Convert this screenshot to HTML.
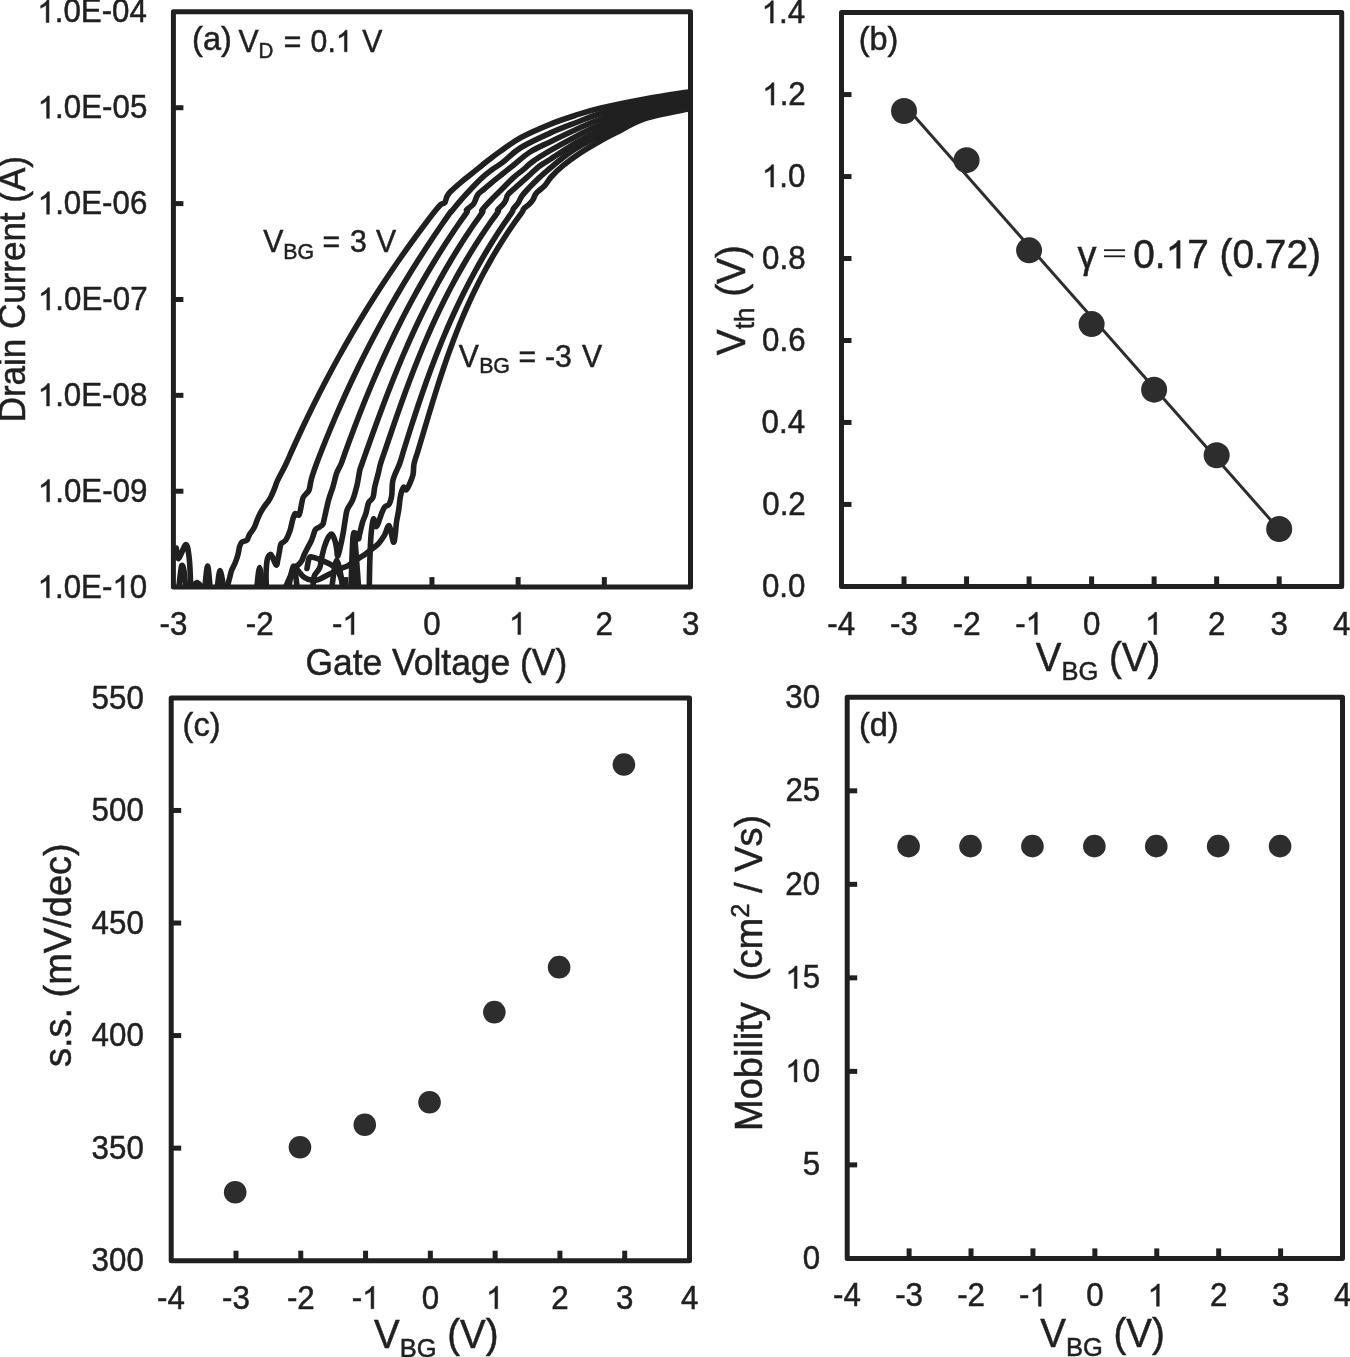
<!DOCTYPE html>
<html><head><meta charset="utf-8"><style>
html,body{margin:0;padding:0;background:#fff;}
svg{display:block;filter:grayscale(1);}
text{font-family:'Liberation Sans', sans-serif;fill:#231f20;white-space:pre;stroke:#231f20;stroke-width:0.5px;} g>path{fill:#231f20;stroke:#231f20;stroke-width:0.5px;vector-effect:non-scaling-stroke;}
</style></head><body>
<svg width="1350" height="1357" viewBox="0 0 1350 1357">
<rect width="1350" height="1357" fill="#fff"/>
<path d="M690,91.8 C682.5,93 660,96.25 645,99 C630,101.75 611.67,105.55 600,108.3 C588.33,111.05 583.33,112.83 575,115.5 C566.67,118.17 559,120.63 550,124.3 C541,127.97 529.33,132.97 521,137.5 C512.67,142.03 505.6,147.58 500,151.5 C494.4,155.42 490.37,158.72 487.4,161 C484.43,163.28 484.78,163.12 482.2,165.2 C479.62,167.28 475.35,170.73 471.9,173.5 C468.45,176.27 464.97,178.87 461.5,181.8 C458.03,184.73 453.52,188.68 451.1,191.1 C448.68,193.52 448.03,194.4 447,196.3 C445.97,198.2 445.95,201.12 444.9,202.5 C443.85,203.88 442.47,203.02 440.7,204.6 C438.93,206.18 436.89,208.77 434.29,212 C431.69,215.23 428.11,220 425.09,224 C422.06,228 419.08,232 416.14,236 C413.2,240 410.3,244 407.44,248 C404.58,252 401.76,256 398.98,260 C396.2,264 393.46,268 390.76,272 C388.05,276 385.39,280 382.76,284 C380.13,288 377.54,292 374.99,296 C372.43,300 369.91,304 367.43,308 C364.94,312 362.49,316 360.08,320 C357.66,324 355.28,328 352.93,332 C350.59,336 348.27,340 345.99,344 C343.7,348 341.45,352 339.23,356 C337.01,360 334.82,364 332.66,368 C330.5,372 328.37,376 326.27,380 C324.16,384 322.09,388 320.05,392 C318,396 315.98,400 313.99,404 C312,408 310.04,412 308.1,416 C306.16,420 304.25,424 302.36,428 C300.47,432 298.61,436 296.77,440 C294.93,444 293.11,448 291.32,452 C289.52,456 288.34,459.15 286,464 C283.66,468.85 279.12,477.27 277.3,481.1 C275.48,484.93 276.08,484.53 275.1,487 C274.12,489.47 272.52,493.55 271.4,495.9 C270.28,498.25 269.63,499.25 268.4,501.1 C267.17,502.95 265.35,505.02 264,507 C262.65,508.98 261.47,510.77 260.3,513 C259.13,515.23 258.03,517.93 257,520.4 C255.97,522.87 255.33,525.47 254.1,527.8 C252.87,530.13 250.72,532.45 249.6,534.4 C248.48,536.35 248.02,538.45 247.4,539.5 C246.78,540.55 246.85,540.23 245.9,540.7 C244.95,541.17 242.75,541.33 241.7,542.3 C240.65,543.27 240.22,544.47 239.6,546.5 C238.98,548.53 238.72,551.83 238,554.5 C237.28,557.17 236.37,559.85 235.3,562.5 C234.23,565.15 232.57,567.75 231.6,570.4 C230.63,573.05 230.18,575.8 229.5,578.4 C228.82,581 227.83,584.73 227.5,586" fill="none" stroke="#231f20" stroke-width="5.6" stroke-linejoin="round" stroke-linecap="round"/>
<path d="M690,94.6 C682.5,95.88 660,99.1 645,102.3 C630,105.5 611.67,110.35 600,113.8 C588.33,117.25 583.33,119.78 575,123 C566.67,126.22 559,129.02 550,133.1 C541,137.18 528.83,142.67 521,147.5 C513.17,152.33 507.73,158.47 503,162.1 C498.27,165.73 496.07,166.72 492.6,169.3 C489.13,171.88 485.65,174.48 482.2,177.6 C478.75,180.72 475.35,184.37 471.9,188 C468.45,191.63 464.97,195.42 461.5,199.4 C458.03,203.38 452.91,209.8 451.1,211.9 C449.29,214 452.11,209.98 450.63,212 C449.15,214.02 444.98,220 442.21,224 C439.44,228 436.71,232 434.01,236 C431.32,240 428.67,244 426.05,248 C423.43,252 420.85,256 418.3,260 C415.76,264 413.25,268 410.77,272 C408.3,276 405.86,280 403.46,284 C401.06,288 398.69,292 396.36,296 C394.02,300 391.72,304 389.46,308 C387.19,312 384.96,316 382.76,320 C380.55,324 378.39,328 376.25,332 C374.12,336 372.01,340 369.94,344 C367.87,348 365.82,352 363.81,356 C361.8,360 359.82,364 357.87,368 C355.92,372 354,376 352.1,380 C350.21,384 348.35,388 346.51,392 C344.68,396 342.87,400 341.09,404 C339.31,408 337.56,412 335.84,416 C334.11,420 332.41,424 330.74,428 C329.07,432 327.42,436 325.8,440 C324.18,444 322.59,448 321.01,452 C319.44,456 317.98,459.52 316.38,464 C314.77,468.48 312.61,474.57 311.4,478.9 C310.19,483.23 309.97,487.53 309.1,490 C308.23,492.47 307.18,492.47 306.2,493.7 C305.22,494.93 303.95,495.8 303.2,497.4 C302.45,499 302.18,501.08 301.7,503.3 C301.22,505.52 300.78,508.72 300.3,510.7 C299.82,512.68 299.67,514.7 298.8,515.2 C297.93,515.7 296.13,512.9 295.1,513.7 C294.07,514.5 293.45,517.18 292.6,520 C291.75,522.82 291.15,527.23 290,530.6 C288.85,533.97 287.2,537.98 285.7,540.2 C284.2,542.42 282.05,541.97 281,543.9 C279.95,545.83 279.93,549.15 279.4,551.8 C278.87,554.45 278.33,557.58 277.8,559.8 C277.27,562.02 277.08,565.53 276.2,565.1 C275.32,564.67 273.48,558.97 272.5,557.2 C271.52,555.43 271.18,554.07 270.3,554.5 C269.42,554.93 267.9,556.7 267.2,559.8 C266.5,562.9 266.25,568.73 266.1,573.1 C265.95,577.47 266.27,583.85 266.3,586" fill="none" stroke="#231f20" stroke-width="5.6" stroke-linejoin="round" stroke-linecap="round"/>
<path d="M690,97.4 C682.5,98.75 660,101.85 645,105.5 C630,109.15 611.67,115.22 600,119.3 C588.33,123.38 583.33,126.23 575,130 C566.67,133.77 557.5,138.23 550,141.9 C542.5,145.57 536.1,148.12 530,152 C523.9,155.88 517.9,161.62 513.4,165.2 C508.9,168.78 506.47,170.73 503,173.5 C499.53,176.27 495.72,179.22 492.6,181.8 C489.48,184.38 486.72,186.93 484.3,189 C481.88,191.07 479.65,192.2 478.1,194.2 C476.55,196.2 475.87,199.27 475,201 C474.13,202.73 474.28,203.13 472.9,204.6 C471.52,206.07 467.68,208.57 466.7,209.8 C465.72,211.03 468.37,209.63 467.02,212 C465.67,214.37 461.36,220 458.61,224 C455.86,228 453.16,232 450.51,236 C447.86,240 445.26,244 442.7,248 C440.15,252 437.65,256 435.19,260 C432.73,264 430.32,268 427.96,272 C425.59,276 423.27,280 420.99,284 C418.71,288 416.47,292 414.28,296 C412.08,300 409.93,304 407.81,308 C405.69,312 403.62,316 401.58,320 C399.54,324 397.54,328 395.57,332 C393.6,336 391.67,340 389.77,344 C387.87,348 386.01,352 384.18,356 C382.34,360 380.54,364 378.77,368 C377,372 375.26,376 373.55,380 C371.83,384 370.15,388 368.49,392 C366.83,396 365.2,400 363.59,404 C361.98,408 360.4,412 358.83,416 C357.27,420 355.73,424 354.22,428 C352.7,432 351.2,436 349.72,440 C348.24,444 346.78,448 345.34,452 C343.9,456 342.52,460.45 341.06,464 C339.61,467.55 337.94,469.52 336.6,473.3 C335.26,477.08 334.33,482.25 333,486.7 C331.67,491.15 330.1,494.45 328.6,500 C327.1,505.55 324.95,515.97 324,520 C323.05,524.03 323.62,523.05 322.9,524.2 C322.18,525.35 320.93,526 319.7,526.9 C318.47,527.8 316.55,528.27 315.5,529.6 C314.45,530.93 314.12,532.97 313.4,534.9 C312.68,536.83 312.18,539 311.2,541.2 C310.22,543.4 308.65,545.88 307.5,548.1 C306.35,550.32 305.27,552.37 304.3,554.5 C303.33,556.63 302.75,559.13 301.7,560.9 C300.65,562.67 299.25,563.95 298,565.1 C296.75,566.25 295.6,565.68 294.2,567.8 C292.8,569.92 290.97,574.77 289.6,577.8 C288.23,580.83 286.6,584.63 286,586" fill="none" stroke="#231f20" stroke-width="5.6" stroke-linejoin="round" stroke-linecap="round"/>
<path d="M690,100.2 C682.5,101.63 660,104.7 645,108.8 C630,112.9 611.67,120.1 600,124.8 C588.33,129.5 583.33,132.68 575,137 C566.67,141.32 557.17,146.52 550,150.7 C542.83,154.88 536.38,159 532,162.1 C527.62,165.2 526.8,166.72 523.7,169.3 C520.6,171.88 516.85,174.48 513.4,177.6 C509.95,180.72 506.47,184.53 503,188 C499.53,191.47 496.07,194.77 492.6,198.4 C489.13,202.03 483.87,207.53 482.2,209.8 C480.53,212.07 483.91,209.63 482.57,212 C481.23,214.37 476.89,220 474.15,224 C471.41,228 468.74,232 466.12,236 C463.5,240 460.95,244 458.45,248 C455.95,252 453.51,256 451.13,260 C448.74,264 446.41,268 444.13,272 C441.85,276 439.63,280 437.45,284 C435.27,288 433.14,292 431.06,296 C428.97,300 426.94,304 424.94,308 C422.94,312 420.99,316 419.08,320 C417.16,324 415.29,328 413.45,332 C411.61,336 409.81,340 408.04,344 C406.27,348 404.54,352 402.83,356 C401.12,360 399.45,364 397.8,368 C396.15,372 394.54,376 392.94,380 C391.34,384 389.77,388 388.22,392 C386.67,396 385.14,400 383.63,404 C382.11,408 380.62,412 379.14,416 C377.66,420 376.2,424 374.75,428 C373.29,432 371.86,436 370.42,440 C368.99,444 367.57,448 366.15,452 C364.73,456 362.99,460.88 361.92,464 C360.84,467.12 360.52,467.15 359.7,470.7 C358.88,474.25 358.18,480.42 357,485.3 C355.82,490.18 354.23,495.92 352.6,500 C350.97,504.08 348.43,506.47 347.2,509.8 C345.97,513.13 345.88,516.08 345.2,520 C344.52,523.92 343.9,528.88 343.1,533.3 C342.3,537.72 341.28,542.7 340.4,546.5 C339.52,550.3 338.42,555.65 337.8,556.1 C337.18,556.55 337.15,551.68 336.7,549.2 C336.25,546.72 335.9,543.68 335.1,541.2 C334.3,538.72 333.05,534.92 331.9,534.3 C330.75,533.68 329.43,535.47 328.2,537.5 C326.97,539.53 325.57,543.22 324.5,546.5 C323.43,549.78 322.6,553.65 321.8,557.2 C321,560.75 320.93,564.72 319.7,567.8 C318.47,570.88 315.52,572.67 314.4,575.7 C313.28,578.73 313.23,584.28 313,586" fill="none" stroke="#231f20" stroke-width="5.6" stroke-linejoin="round" stroke-linecap="round"/>
<path d="M690,103 C682.5,104.5 660,107.45 645,112 C630,116.55 611.67,125.05 600,130.3 C588.33,135.55 583.33,138.63 575,143.5 C566.67,148.37 555.95,155.72 550,159.5 C544.05,163.28 542.82,163.52 539.3,166.2 C535.78,168.88 532.37,172.48 528.9,175.6 C525.43,178.72 521.95,181.8 518.5,184.9 C515.05,188 510.27,191.78 508.2,194.2 C506.13,196.62 506.97,197.67 506.1,199.4 C505.23,201.13 504.38,202.87 503,204.6 C501.62,206.33 498.65,208.57 497.8,209.8 C496.95,211.03 499.3,209.63 497.89,212 C496.49,214.37 492.13,220 489.35,224 C486.58,228 483.88,232 481.24,236 C478.61,240 476.05,244 473.55,248 C471.05,252 468.62,256 466.25,260 C463.87,264 461.57,268 459.31,272 C457.06,276 454.87,280 452.73,284 C450.58,288 448.5,292 446.46,296 C444.42,300 442.44,304 440.5,308 C438.56,312 436.67,316 434.82,320 C432.97,324 431.17,328 429.4,332 C427.63,336 425.9,340 424.21,344 C422.52,348 420.86,352 419.24,356 C417.61,360 416.02,364 414.46,368 C412.89,372 411.36,376 409.85,380 C408.33,384 406.85,388 405.38,392 C403.92,396 402.47,400 401.05,404 C399.62,408 398.21,412 396.81,416 C395.41,420 394.03,424 392.66,428 C391.28,432 389.92,436 388.56,440 C387.2,444 385.85,448 384.5,452 C383.15,456 381.49,460.45 380.46,464 C379.43,467.55 379.24,469.52 378.3,473.3 C377.36,477.08 375.68,482.7 374.8,486.7 C373.92,490.7 374.03,494.63 373,497.3 C371.97,499.97 369.78,500.03 368.6,502.7 C367.42,505.37 366.9,510.07 365.9,513.3 C364.9,516.53 363.65,518.62 362.6,522.1 C361.55,525.58 360.3,531.38 359.6,534.2 C358.9,537.02 359.1,539.12 358.4,539 C357.7,538.88 356.13,531.67 355.4,533.5 C354.67,535.33 354.37,541.25 354,550 C353.63,558.75 353.33,580 353.2,586" fill="none" stroke="#231f20" stroke-width="5.6" stroke-linejoin="round" stroke-linecap="round"/>
<path d="M690,105.8 C682.5,107.38 660,110.3 645,115.3 C630,120.3 611.67,130.18 600,135.8 C588.33,141.42 581.67,144.97 575,149 C568.33,153.03 564.22,156.75 560,160 C555.78,163.25 553.15,165.57 549.7,168.5 C546.25,171.43 542.77,174.35 539.3,177.6 C535.83,180.85 531.83,184.88 528.9,188 C525.97,191.12 523.43,193.88 521.7,196.3 C519.97,198.72 519.88,200.42 518.5,202.5 C517.12,204.58 514.47,207.22 513.4,208.8 C512.33,210.38 513.71,209.47 512.11,212 C510.51,214.53 506.51,220 503.82,224 C501.13,228 498.51,232 495.95,236 C493.4,240 490.91,244 488.48,248 C486.06,252 483.7,256 481.39,260 C479.09,264 476.85,268 474.66,272 C472.47,276 470.34,280 468.27,284 C466.19,288 464.17,292 462.19,296 C460.22,300 458.3,304 456.42,308 C454.54,312 452.71,316 450.92,320 C449.14,324 447.39,328 445.69,332 C443.98,336 442.32,340 440.69,344 C439.06,348 437.47,352 435.92,356 C434.36,360 432.83,364 431.34,368 C429.84,372 428.38,376 426.94,380 C425.5,384 424.09,388 422.7,392 C421.31,396 419.95,400 418.6,404 C417.26,408 415.93,412 414.62,416 C413.31,420 412.02,424 410.74,428 C409.46,432 408.2,436 406.94,440 C405.68,444 404.44,448 403.2,452 C401.96,456 401.2,459.33 399.5,464 C397.8,468.67 394.3,474.73 393,480 C391.7,485.27 392.37,491.53 391.7,495.6 C391.03,499.67 390.18,502.48 389,504.4 C387.82,506.32 385.93,505.32 384.6,507.1 C383.27,508.88 382.18,512.12 381,515.1 C379.82,518.08 378.42,523.18 377.5,525 C376.58,526.82 376.17,527 375.5,526 C374.83,525 374.23,517.63 373.5,519 C372.77,520.37 371.7,527.65 371.1,534.2 C370.5,540.75 370.2,549.67 369.9,558.3 C369.6,566.93 369.4,581.38 369.3,586" fill="none" stroke="#231f20" stroke-width="5.6" stroke-linejoin="round" stroke-linecap="round"/>
<path d="M690,108.6 C682.5,110.25 657.28,114.5 645,118.5 C632.72,122.5 624.05,128.68 616.3,132.6 C608.55,136.52 604.43,138.65 598.5,142 C592.57,145.35 586.62,148.75 580.7,152.7 C574.78,156.65 567.93,161.65 563,165.7 C558.07,169.75 554.18,173.63 551.1,177 C548.02,180.37 546.98,183.2 544.5,185.9 C542.02,188.6 538.1,190.95 536.2,193.2 C534.3,195.45 534.32,197.5 533.1,199.4 C531.88,201.3 530.47,203.03 528.9,204.6 C527.33,206.17 524.82,207.57 523.7,208.8 C522.58,210.03 523.89,209.47 522.2,212 C520.51,214.53 516.35,220 513.56,224 C510.77,228 508.08,232 505.47,236 C502.86,240 500.34,244 497.89,248 C495.45,252 493.09,256 490.8,260 C488.51,264 486.3,268 484.16,272 C482.01,276 479.95,280 477.94,284 C475.93,288 473.99,292 472.11,296 C470.22,300 468.4,304 466.63,308 C464.86,312 463.15,316 461.49,320 C459.82,324 458.21,328 456.64,332 C455.07,336 453.55,340 452.06,344 C450.57,348 449.13,352 447.71,356 C446.3,360 444.92,364 443.57,368 C442.21,372 440.89,376 439.59,380 C438.29,384 437.02,388 435.76,392 C434.5,396 433.27,400 432.04,404 C430.81,408 429.61,412 428.4,416 C427.19,420 426,424 424.8,428 C423.61,432 422.42,436 421.23,440 C420.03,444 418.84,448 417.63,452 C416.43,456 414.77,460.22 414,464 C413.22,467.78 413.83,471.15 413,474.7 C412.17,478.25 410.17,482.75 409,485.3 C407.83,487.85 406.88,489.67 406,490 C405.12,490.33 404.6,486.37 403.7,487.3 C402.8,488.23 401.43,491.82 400.6,495.6 C399.77,499.38 399.38,505.58 398.7,510 C398.02,514.42 397.07,518.07 396.5,522.1 C395.93,526.13 395.82,530.88 395.3,534.2 C394.78,537.52 394.42,543.42 393.4,542 C392.38,540.58 390.7,526.8 389.2,525.7 C387.7,524.6 386.22,532.38 384.4,535.4 C382.58,538.42 380.32,541.58 378.3,543.8 C376.28,546.02 374.72,546.78 372.3,548.7 C369.88,550.62 366.62,553.38 363.8,555.3 C360.98,557.22 358.02,558.48 355.4,560.2 C352.78,561.92 350.32,564.3 348.1,565.6 C345.88,566.9 344.12,567.1 342.1,568 C340.08,568.9 338.33,569.87 336,571 C333.67,572.13 331.02,573.37 328.1,574.8 C325.18,576.23 321.3,578.72 318.5,579.6 C315.7,580.48 313.7,580.5 311.3,580.1 C308.9,579.7 306.27,578.73 304.1,577.2 C301.93,575.67 299.65,572.43 298.3,570.9 C296.95,569.37 296.38,568.48 296,568" fill="none" stroke="#231f20" stroke-width="5.6" stroke-linejoin="round" stroke-linecap="round"/>
<path d="M307,568.5 C307.35,566.78 308.3,560.12 309.1,558.2 C309.9,556.28 309.68,556.65 311.8,557 C313.92,557.35 318.35,558.87 321.8,560.3 C325.25,561.73 329.97,563.98 332.5,565.6 C335.03,567.22 335.58,567.93 337,570 C338.42,572.07 340.08,575.33 341,578 C341.92,580.67 342.25,584.67 342.5,586" fill="none" stroke="#231f20" stroke-width="5.6" stroke-linejoin="round" stroke-linecap="round"/>
<path d="M176.3,548 C176.7,549.77 177.1,559.17 178.7,558.6 C180.3,558.03 184.13,544.53 185.9,544.6 C187.67,544.67 188.5,552.1 189.3,559 C190.1,565.9 190.47,581.5 190.7,586" fill="none" stroke="#231f20" stroke-width="5.6" stroke-linejoin="round" stroke-linecap="round"/>
<path d="M179,586 C179.43,582.67 180.77,568.5 181.6,566 C182.43,563.5 183.35,567.67 184,571 C184.65,574.33 185.25,583.5 185.5,586" fill="none" stroke="#231f20" stroke-width="5.6" stroke-linejoin="round" stroke-linecap="round"/>
<path d="M193,586 C193.67,585.42 195.67,582.5 197,582.5 C198.33,582.5 200.33,585.42 201,586" fill="none" stroke="#231f20" stroke-width="5.6" stroke-linejoin="round" stroke-linecap="round"/>
<path d="M205,586 C205.43,582.67 206.77,566 207.6,566 C208.43,566 209.6,582.67 210,586" fill="none" stroke="#231f20" stroke-width="5.6" stroke-linejoin="round" stroke-linecap="round"/>
<path d="M217.5,586 C217.92,583.42 219,570.5 220,570.5 C221,570.5 222.92,583.42 223.5,586" fill="none" stroke="#231f20" stroke-width="5.6" stroke-linejoin="round" stroke-linecap="round"/>
<path d="M257,586 C257.43,582.93 258.68,567.6 259.6,567.6 C260.52,567.6 262.02,582.93 262.5,586" fill="none" stroke="#231f20" stroke-width="5.6" stroke-linejoin="round" stroke-linecap="round"/>
<path d="M332,586 C332.78,581.72 334.87,560.3 336.7,560.3 C338.53,560.3 341.95,581.72 343,586" fill="none" stroke="#231f20" stroke-width="5.6" stroke-linejoin="round" stroke-linecap="round"/>
<path d="M289,586 C289.75,582.67 292.17,566 293.5,566 C294.83,566 296.42,582.67 297,586" fill="none" stroke="#231f20" stroke-width="5.6" stroke-linejoin="round" stroke-linecap="round"/>
<path d="M351,586 C351.45,577.08 352.45,532.5 353.7,532.5 C354.95,532.5 357.7,577.08 358.5,586" fill="none" stroke="#231f20" stroke-width="5.6" stroke-linejoin="round" stroke-linecap="round"/>
<rect x="173.4" y="11.85" width="517.1" height="575.25" fill="none" stroke="#231f20" stroke-width="5" stroke-linejoin="round"/>
<line x1="259.58" y1="587.1" x2="259.58" y2="577.1" stroke="#231f20" stroke-width="5" stroke-linecap="butt"/>
<line x1="345.77" y1="587.1" x2="345.77" y2="577.1" stroke="#231f20" stroke-width="5" stroke-linecap="butt"/>
<line x1="431.95" y1="587.1" x2="431.95" y2="577.1" stroke="#231f20" stroke-width="5" stroke-linecap="butt"/>
<line x1="518.13" y1="587.1" x2="518.13" y2="577.1" stroke="#231f20" stroke-width="5" stroke-linecap="butt"/>
<line x1="604.32" y1="587.1" x2="604.32" y2="577.1" stroke="#231f20" stroke-width="5" stroke-linecap="butt"/>
<line x1="173.4" y1="107.72" x2="183.4" y2="107.72" stroke="#231f20" stroke-width="5" stroke-linecap="butt"/>
<line x1="173.4" y1="203.6" x2="183.4" y2="203.6" stroke="#231f20" stroke-width="5" stroke-linecap="butt"/>
<line x1="173.4" y1="299.48" x2="183.4" y2="299.48" stroke="#231f20" stroke-width="5" stroke-linecap="butt"/>
<line x1="173.4" y1="395.35" x2="183.4" y2="395.35" stroke="#231f20" stroke-width="5" stroke-linecap="butt"/>
<line x1="173.4" y1="491.23" x2="183.4" y2="491.23" stroke="#231f20" stroke-width="5" stroke-linecap="butt"/>
<g transform="translate(37.29,22.45) scale(1,1.04)"><path d="M763 0H583V1102Q518 1043 412 983Q307 924 223 894V1061Q374 1129 487 1226Q600 1323 647 1409H763Z" transform="translate(0,0) scale(0.01528,-0.01528)"/><text x="17.41" y="0" font-size="31.3">.0E-04</text></g>
<g transform="translate(37.69,118.32) scale(1,1.04)"><path d="M763 0H583V1102Q518 1043 412 983Q307 924 223 894V1061Q374 1129 487 1226Q600 1323 647 1409H763Z" transform="translate(0,0) scale(0.01528,-0.01528)"/><text x="17.41" y="0" font-size="31.3">.0E-05</text></g>
<g transform="translate(37.75,214.2) scale(1,1.04)"><path d="M763 0H583V1102Q518 1043 412 983Q307 924 223 894V1061Q374 1129 487 1226Q600 1323 647 1409H763Z" transform="translate(0,0) scale(0.01528,-0.01528)"/><text x="17.41" y="0" font-size="31.3">.0E-06</text></g>
<g transform="translate(37.95,310.08) scale(1,1.04)"><path d="M763 0H583V1102Q518 1043 412 983Q307 924 223 894V1061Q374 1129 487 1226Q600 1323 647 1409H763Z" transform="translate(0,0) scale(0.01528,-0.01528)"/><text x="17.41" y="0" font-size="31.3">.0E-07</text></g>
<g transform="translate(37.73,405.95) scale(1,1.04)"><path d="M763 0H583V1102Q518 1043 412 983Q307 924 223 894V1061Q374 1129 487 1226Q600 1323 647 1409H763Z" transform="translate(0,0) scale(0.01528,-0.01528)"/><text x="17.41" y="0" font-size="31.3">.0E-08</text></g>
<g transform="translate(37.86,501.83) scale(1,1.04)"><path d="M763 0H583V1102Q518 1043 412 983Q307 924 223 894V1061Q374 1129 487 1226Q600 1323 647 1409H763Z" transform="translate(0,0) scale(0.01528,-0.01528)"/><text x="17.41" y="0" font-size="31.3">.0E-09</text></g>
<g transform="translate(37.6,597.7) scale(1,1.04)"><path d="M763 0H583V1102Q518 1043 412 983Q307 924 223 894V1061Q374 1129 487 1226Q600 1323 647 1409H763Z" transform="translate(0,0) scale(0.01528,-0.01528)"/><text x="17.41" y="0" font-size="31.3">.0E-</text><path d="M763 0H583V1102Q518 1043 412 983Q307 924 223 894V1061Q374 1129 487 1226Q600 1323 647 1409H763Z" transform="translate(74.81,0) scale(0.01528,-0.01528)"/><text x="92.22" y="0" font-size="31.3">0</text></g>
<g transform="translate(159.48,634.6) scale(1,1.04)"><text x="0" y="0" font-size="31.3">-3</text></g>
<g transform="translate(245.76,634.6) scale(1,1.04)"><text x="0" y="0" font-size="31.3">-2</text></g>
<g transform="translate(331.92,634.6) scale(1,1.04)"><text x="0" y="0" font-size="31.3">-</text><path d="M763 0H583V1102Q518 1043 412 983Q307 924 223 894V1061Q374 1129 487 1226Q600 1323 647 1409H763Z" transform="translate(10.42,0) scale(0.01528,-0.01528)"/></g>
<g transform="translate(423.25,634.6) scale(1,1.04)"><text x="0" y="0" font-size="31.3">0</text></g>
<g transform="translate(509,634.6) scale(1,1.04)"><path d="M763 0H583V1102Q518 1043 412 983Q307 924 223 894V1061Q374 1129 487 1226Q600 1323 647 1409H763Z" transform="translate(0,0) scale(0.01528,-0.01528)"/></g>
<g transform="translate(595.61,634.6) scale(1,1.04)"><text x="0" y="0" font-size="31.3">2</text></g>
<g transform="translate(681.89,634.6) scale(1,1.04)"><text x="0" y="0" font-size="31.3">3</text></g>
<g transform="translate(305.52,675) scale(1,1.04)"><text x="0" y="0" font-size="35.4">Gate Voltage (V)</text></g>
<g transform="translate(25.4,422.37) rotate(-90) scale(1,1.04)"><text x="0" y="0" font-size="35">Drain Current (A)</text></g>
<g transform="translate(192.08,50) scale(1,1.04)"><text x="0" y="0" font-size="32.5">(a)</text></g>
<g transform="translate(238.57,51.8) scale(1,1.04)"><text x="0" y="0" font-size="30.2">V</text></g>
<g transform="translate(258.41,58.3) scale(1,1.04)"><text x="0" y="0" font-size="20.6">D</text></g>
<g transform="translate(283.63,51.8) scale(1,1.04)"><text x="0" y="0" font-size="30.2">=</text></g>
<g transform="translate(310.62,51.8) scale(1,1.04)"><text x="0" y="0" font-size="30.2">0.</text><path d="M763 0H583V1102Q518 1043 412 983Q307 924 223 894V1061Q374 1129 487 1226Q600 1323 647 1409H763Z" transform="translate(25.19,0) scale(0.01475,-0.01475)"/></g>
<g transform="translate(362.27,51.8) scale(1,1.04)"><text x="0" y="0" font-size="30.2">V</text></g>
<g transform="translate(263.17,252.4) scale(1,1.04)"><text x="0" y="0" font-size="30.2">V</text></g>
<g transform="translate(283.25,259.4) scale(1,1.04)"><text x="0" y="0" font-size="21.3">BG</text></g>
<g transform="translate(322.43,252.4) scale(1,1.04)"><text x="0" y="0" font-size="30.2">=</text></g>
<g transform="translate(349.95,252.4) scale(1,1.04)"><text x="0" y="0" font-size="30.2">3</text></g>
<g transform="translate(375.97,252.4) scale(1,1.04)"><text x="0" y="0" font-size="30.2">V</text></g>
<g transform="translate(458.67,366.5) scale(1,1.04)"><text x="0" y="0" font-size="30.2">V</text></g>
<g transform="translate(479.15,372.8) scale(1,1.04)"><text x="0" y="0" font-size="21.3">BG</text></g>
<g transform="translate(518.43,366.5) scale(1,1.04)"><text x="0" y="0" font-size="30.2">=</text></g>
<g transform="translate(544.96,366.5) scale(1,1.04)"><text x="0" y="0" font-size="30.2">-3</text></g>
<g transform="translate(582.07,366.5) scale(1,1.04)"><text x="0" y="0" font-size="30.2">V</text></g>
<rect x="841.5" y="12.6" width="500.2" height="573.8" fill="none" stroke="#231f20" stroke-width="5" stroke-linejoin="round"/>
<line x1="904.02" y1="586.4" x2="904.02" y2="576.4" stroke="#231f20" stroke-width="5" stroke-linecap="butt"/>
<line x1="966.55" y1="586.4" x2="966.55" y2="576.4" stroke="#231f20" stroke-width="5" stroke-linecap="butt"/>
<line x1="1029.08" y1="586.4" x2="1029.08" y2="576.4" stroke="#231f20" stroke-width="5" stroke-linecap="butt"/>
<line x1="1091.6" y1="586.4" x2="1091.6" y2="576.4" stroke="#231f20" stroke-width="5" stroke-linecap="butt"/>
<line x1="1154.12" y1="586.4" x2="1154.12" y2="576.4" stroke="#231f20" stroke-width="5" stroke-linecap="butt"/>
<line x1="1216.65" y1="586.4" x2="1216.65" y2="576.4" stroke="#231f20" stroke-width="5" stroke-linecap="butt"/>
<line x1="1279.18" y1="586.4" x2="1279.18" y2="576.4" stroke="#231f20" stroke-width="5" stroke-linecap="butt"/>
<line x1="841.5" y1="504.43" x2="851.5" y2="504.43" stroke="#231f20" stroke-width="5" stroke-linecap="butt"/>
<line x1="841.5" y1="422.46" x2="851.5" y2="422.46" stroke="#231f20" stroke-width="5" stroke-linecap="butt"/>
<line x1="841.5" y1="340.49" x2="851.5" y2="340.49" stroke="#231f20" stroke-width="5" stroke-linecap="butt"/>
<line x1="841.5" y1="258.51" x2="851.5" y2="258.51" stroke="#231f20" stroke-width="5" stroke-linecap="butt"/>
<line x1="841.5" y1="176.54" x2="851.5" y2="176.54" stroke="#231f20" stroke-width="5" stroke-linecap="butt"/>
<line x1="841.5" y1="94.57" x2="851.5" y2="94.57" stroke="#231f20" stroke-width="5" stroke-linecap="butt"/>
<g transform="translate(761.91,596.9) scale(1,1.04)"><text x="0" y="0" font-size="31.3">0.0</text></g>
<g transform="translate(762.26,514.93) scale(1,1.04)"><text x="0" y="0" font-size="31.3">0.2</text></g>
<g transform="translate(761.61,432.96) scale(1,1.04)"><text x="0" y="0" font-size="31.3">0.4</text></g>
<g transform="translate(762.06,350.99) scale(1,1.04)"><text x="0" y="0" font-size="31.3">0.6</text></g>
<g transform="translate(762.05,269.01) scale(1,1.04)"><text x="0" y="0" font-size="31.3">0.8</text></g>
<g transform="translate(761.91,187.04) scale(1,1.04)"><path d="M763 0H583V1102Q518 1043 412 983Q307 924 223 894V1061Q374 1129 487 1226Q600 1323 647 1409H763Z" transform="translate(0,0) scale(0.01528,-0.01528)"/><text x="17.41" y="0" font-size="31.3">.0</text></g>
<g transform="translate(762.26,105.07) scale(1,1.04)"><path d="M763 0H583V1102Q518 1043 412 983Q307 924 223 894V1061Q374 1129 487 1226Q600 1323 647 1409H763Z" transform="translate(0,0) scale(0.01528,-0.01528)"/><text x="17.41" y="0" font-size="31.3">.2</text></g>
<g transform="translate(761.61,23.1) scale(1,1.04)"><path d="M763 0H583V1102Q518 1043 412 983Q307 924 223 894V1061Q374 1129 487 1226Q600 1323 647 1409H763Z" transform="translate(0,0) scale(0.01528,-0.01528)"/><text x="17.41" y="0" font-size="31.3">.4</text></g>
<g transform="translate(827.35,634.6) scale(1,1.04)"><text x="0" y="0" font-size="31.3">-4</text></g>
<g transform="translate(890.1,634.6) scale(1,1.04)"><text x="0" y="0" font-size="31.3">-3</text></g>
<g transform="translate(952.73,634.6) scale(1,1.04)"><text x="0" y="0" font-size="31.3">-2</text></g>
<g transform="translate(1015.23,634.6) scale(1,1.04)"><text x="0" y="0" font-size="31.3">-</text><path d="M763 0H583V1102Q518 1043 412 983Q307 924 223 894V1061Q374 1129 487 1226Q600 1323 647 1409H763Z" transform="translate(10.42,0) scale(0.01528,-0.01528)"/></g>
<g transform="translate(1082.9,634.6) scale(1,1.04)"><text x="0" y="0" font-size="31.3">0</text></g>
<g transform="translate(1144.99,634.6) scale(1,1.04)"><path d="M763 0H583V1102Q518 1043 412 983Q307 924 223 894V1061Q374 1129 487 1226Q600 1323 647 1409H763Z" transform="translate(0,0) scale(0.01528,-0.01528)"/></g>
<g transform="translate(1207.95,634.6) scale(1,1.04)"><text x="0" y="0" font-size="31.3">2</text></g>
<g transform="translate(1270.56,634.6) scale(1,1.04)"><text x="0" y="0" font-size="31.3">3</text></g>
<g transform="translate(1333.1,634.6) scale(1,1.04)"><text x="0" y="0" font-size="31.3">4</text></g>
<line x1="904.02" y1="104.53" x2="1279.18" y2="529.61" stroke="#2f2c2d" stroke-width="3.0" stroke-linecap="butt"/>
<circle cx="904.02" cy="110.97" r="13" fill="#2f2c2d"/>
<circle cx="966.55" cy="160.15" r="13" fill="#2f2c2d"/>
<circle cx="1029.08" cy="250.32" r="13" fill="#2f2c2d"/>
<circle cx="1091.6" cy="324.09" r="13" fill="#2f2c2d"/>
<circle cx="1154.12" cy="389.67" r="13" fill="#2f2c2d"/>
<circle cx="1216.65" cy="455.25" r="13" fill="#2f2c2d"/>
<circle cx="1279.18" cy="529.02" r="13" fill="#2f2c2d"/>
<g transform="translate(1035.83,670.8) scale(1,1.04)"><text x="0" y="0" font-size="38.5">V</text><text x="25.68" y="8.9" font-size="25.5">BG</text><text x="62.52" y="0" font-size="38.5"> (V)</text></g>
<g transform="translate(744.5,355.17) rotate(-90) scale(1,1.04)"><text x="0" y="0" font-size="38.8">V</text><text x="25.88" y="8.7" font-size="26">th</text><text x="47.56" y="0" font-size="38.8"> (V)</text></g>
<g transform="translate(858.68,50) scale(1,1.04)"><text x="0" y="0" font-size="32.5">(b)</text></g>
<g transform="translate(1077.57,268.2) scale(1,1.04)"><text x="0" y="0" font-size="38">γ</text></g>
<line x1="1104" y1="250.2" x2="1125" y2="250.2" stroke="#231f20" stroke-width="1.8" stroke-linecap="butt"/>
<line x1="1104" y1="256.3" x2="1125" y2="256.3" stroke="#231f20" stroke-width="1.8" stroke-linecap="butt"/>
<g transform="translate(1133.28,268.2) scale(1,1.04)"><text x="0" y="0" font-size="38.8">0.</text><path d="M763 0H583V1102Q518 1043 412 983Q307 924 223 894V1061Q374 1129 487 1226Q600 1323 647 1409H763Z" transform="translate(32.36,0) scale(0.01895,-0.01895)"/><text x="53.94" y="0" font-size="38.8">7 (0.72)</text></g>
<rect x="171.2" y="697.9" width="518.3" height="562.8" fill="none" stroke="#231f20" stroke-width="5" stroke-linejoin="round"/>
<line x1="235.99" y1="1260.7" x2="235.99" y2="1250.7" stroke="#231f20" stroke-width="5" stroke-linecap="butt"/>
<line x1="300.77" y1="1260.7" x2="300.77" y2="1250.7" stroke="#231f20" stroke-width="5" stroke-linecap="butt"/>
<line x1="365.56" y1="1260.7" x2="365.56" y2="1250.7" stroke="#231f20" stroke-width="5" stroke-linecap="butt"/>
<line x1="430.35" y1="1260.7" x2="430.35" y2="1250.7" stroke="#231f20" stroke-width="5" stroke-linecap="butt"/>
<line x1="495.14" y1="1260.7" x2="495.14" y2="1250.7" stroke="#231f20" stroke-width="5" stroke-linecap="butt"/>
<line x1="559.92" y1="1260.7" x2="559.92" y2="1250.7" stroke="#231f20" stroke-width="5" stroke-linecap="butt"/>
<line x1="624.71" y1="1260.7" x2="624.71" y2="1250.7" stroke="#231f20" stroke-width="5" stroke-linecap="butt"/>
<line x1="171.2" y1="1148.14" x2="181.2" y2="1148.14" stroke="#231f20" stroke-width="5" stroke-linecap="butt"/>
<line x1="171.2" y1="1035.58" x2="181.2" y2="1035.58" stroke="#231f20" stroke-width="5" stroke-linecap="butt"/>
<line x1="171.2" y1="923.02" x2="181.2" y2="923.02" stroke="#231f20" stroke-width="5" stroke-linecap="butt"/>
<line x1="171.2" y1="810.46" x2="181.2" y2="810.46" stroke="#231f20" stroke-width="5" stroke-linecap="butt"/>
<g transform="translate(91.6,1271.3) scale(1,1.04)"><text x="0" y="0" font-size="31.3">300</text></g>
<g transform="translate(91.6,1158.74) scale(1,1.04)"><text x="0" y="0" font-size="31.3">350</text></g>
<g transform="translate(91.6,1046.18) scale(1,1.04)"><text x="0" y="0" font-size="31.3">400</text></g>
<g transform="translate(91.6,933.62) scale(1,1.04)"><text x="0" y="0" font-size="31.3">450</text></g>
<g transform="translate(91.6,821.06) scale(1,1.04)"><text x="0" y="0" font-size="31.3">500</text></g>
<g transform="translate(91.6,708.5) scale(1,1.04)"><text x="0" y="0" font-size="31.3">550</text></g>
<g transform="translate(157.05,1308.7) scale(1,1.04)"><text x="0" y="0" font-size="31.3">-4</text></g>
<g transform="translate(222.06,1308.7) scale(1,1.04)"><text x="0" y="0" font-size="31.3">-3</text></g>
<g transform="translate(286.95,1308.7) scale(1,1.04)"><text x="0" y="0" font-size="31.3">-2</text></g>
<g transform="translate(351.72,1308.7) scale(1,1.04)"><text x="0" y="0" font-size="31.3">-</text><path d="M763 0H583V1102Q518 1043 412 983Q307 924 223 894V1061Q374 1129 487 1226Q600 1323 647 1409H763Z" transform="translate(10.42,0) scale(0.01528,-0.01528)"/></g>
<g transform="translate(421.65,1308.7) scale(1,1.04)"><text x="0" y="0" font-size="31.3">0</text></g>
<g transform="translate(486.01,1308.7) scale(1,1.04)"><path d="M763 0H583V1102Q518 1043 412 983Q307 924 223 894V1061Q374 1129 487 1226Q600 1323 647 1409H763Z" transform="translate(0,0) scale(0.01528,-0.01528)"/></g>
<g transform="translate(551.22,1308.7) scale(1,1.04)"><text x="0" y="0" font-size="31.3">2</text></g>
<g transform="translate(616.1,1308.7) scale(1,1.04)"><text x="0" y="0" font-size="31.3">3</text></g>
<g transform="translate(680.9,1308.7) scale(1,1.04)"><text x="0" y="0" font-size="31.3">4</text></g>
<circle cx="235.19" cy="1192.26" r="11.3" fill="#2f2c2d"/>
<circle cx="299.97" cy="1147.24" r="11.3" fill="#2f2c2d"/>
<circle cx="364.76" cy="1124.73" r="11.3" fill="#2f2c2d"/>
<circle cx="429.55" cy="1102.22" r="11.3" fill="#2f2c2d"/>
<circle cx="494.34" cy="1012.17" r="11.3" fill="#2f2c2d"/>
<circle cx="559.12" cy="967.14" r="11.3" fill="#2f2c2d"/>
<circle cx="623.91" cy="764.54" r="11.3" fill="#2f2c2d"/>
<g transform="translate(374.03,1347.9) scale(1,1.04)"><text x="0" y="0" font-size="38.5">V</text><text x="25.68" y="8.9" font-size="25.5">BG</text><text x="62.52" y="0" font-size="38.5"> (V)</text></g>
<g transform="translate(70.5,1067.06) rotate(-90) scale(1,1.04)"><text x="0" y="0" font-size="38">s.s. (mV/dec)</text></g>
<g transform="translate(182.58,735.9) scale(1,1.04)"><text x="0" y="0" font-size="32.5">(c)</text></g>
<rect x="847.2" y="697.3" width="495.3" height="561.1" fill="none" stroke="#231f20" stroke-width="5" stroke-linejoin="round"/>
<line x1="909.11" y1="1258.4" x2="909.11" y2="1248.4" stroke="#231f20" stroke-width="5" stroke-linecap="butt"/>
<line x1="971.03" y1="1258.4" x2="971.03" y2="1248.4" stroke="#231f20" stroke-width="5" stroke-linecap="butt"/>
<line x1="1032.94" y1="1258.4" x2="1032.94" y2="1248.4" stroke="#231f20" stroke-width="5" stroke-linecap="butt"/>
<line x1="1094.85" y1="1258.4" x2="1094.85" y2="1248.4" stroke="#231f20" stroke-width="5" stroke-linecap="butt"/>
<line x1="1156.76" y1="1258.4" x2="1156.76" y2="1248.4" stroke="#231f20" stroke-width="5" stroke-linecap="butt"/>
<line x1="1218.67" y1="1258.4" x2="1218.67" y2="1248.4" stroke="#231f20" stroke-width="5" stroke-linecap="butt"/>
<line x1="1280.59" y1="1258.4" x2="1280.59" y2="1248.4" stroke="#231f20" stroke-width="5" stroke-linecap="butt"/>
<line x1="847.2" y1="1164.88" x2="857.2" y2="1164.88" stroke="#231f20" stroke-width="5" stroke-linecap="butt"/>
<line x1="847.2" y1="1071.37" x2="857.2" y2="1071.37" stroke="#231f20" stroke-width="5" stroke-linecap="butt"/>
<line x1="847.2" y1="977.85" x2="857.2" y2="977.85" stroke="#231f20" stroke-width="5" stroke-linecap="butt"/>
<line x1="847.2" y1="884.33" x2="857.2" y2="884.33" stroke="#231f20" stroke-width="5" stroke-linecap="butt"/>
<line x1="847.2" y1="790.82" x2="857.2" y2="790.82" stroke="#231f20" stroke-width="5" stroke-linecap="butt"/>
<g transform="translate(802.72,1269) scale(1,1.04)"><text x="0" y="0" font-size="31.3">0</text></g>
<g transform="translate(802.81,1175.48) scale(1,1.04)"><text x="0" y="0" font-size="31.3">5</text></g>
<g transform="translate(785.31,1081.97) scale(1,1.04)"><path d="M763 0H583V1102Q518 1043 412 983Q307 924 223 894V1061Q374 1129 487 1226Q600 1323 647 1409H763Z" transform="translate(0,0) scale(0.01528,-0.01528)"/><text x="17.41" y="0" font-size="31.3">0</text></g>
<g transform="translate(785.4,988.45) scale(1,1.04)"><path d="M763 0H583V1102Q518 1043 412 983Q307 924 223 894V1061Q374 1129 487 1226Q600 1323 647 1409H763Z" transform="translate(0,0) scale(0.01528,-0.01528)"/><text x="17.41" y="0" font-size="31.3">5</text></g>
<g transform="translate(785.31,894.93) scale(1,1.04)"><text x="0" y="0" font-size="31.3">20</text></g>
<g transform="translate(785.4,801.42) scale(1,1.04)"><text x="0" y="0" font-size="31.3">25</text></g>
<g transform="translate(785.31,707.9) scale(1,1.04)"><text x="0" y="0" font-size="31.3">30</text></g>
<g transform="translate(833.05,1306.3) scale(1,1.04)"><text x="0" y="0" font-size="31.3">-4</text></g>
<g transform="translate(895.19,1306.3) scale(1,1.04)"><text x="0" y="0" font-size="31.3">-3</text></g>
<g transform="translate(957.2,1306.3) scale(1,1.04)"><text x="0" y="0" font-size="31.3">-2</text></g>
<g transform="translate(1019.09,1306.3) scale(1,1.04)"><text x="0" y="0" font-size="31.3">-</text><path d="M763 0H583V1102Q518 1043 412 983Q307 924 223 894V1061Q374 1129 487 1226Q600 1323 647 1409H763Z" transform="translate(10.42,0) scale(0.01528,-0.01528)"/></g>
<g transform="translate(1086.15,1306.3) scale(1,1.04)"><text x="0" y="0" font-size="31.3">0</text></g>
<g transform="translate(1147.63,1306.3) scale(1,1.04)"><path d="M763 0H583V1102Q518 1043 412 983Q307 924 223 894V1061Q374 1129 487 1226Q600 1323 647 1409H763Z" transform="translate(0,0) scale(0.01528,-0.01528)"/></g>
<g transform="translate(1209.97,1306.3) scale(1,1.04)"><text x="0" y="0" font-size="31.3">2</text></g>
<g transform="translate(1271.98,1306.3) scale(1,1.04)"><text x="0" y="0" font-size="31.3">3</text></g>
<g transform="translate(1333.9,1306.3) scale(1,1.04)"><text x="0" y="0" font-size="31.3">4</text></g>
<circle cx="908.61" cy="846.13" r="11.3" fill="#2f2c2d"/>
<circle cx="970.53" cy="846.13" r="11.3" fill="#2f2c2d"/>
<circle cx="1032.44" cy="846.13" r="11.3" fill="#2f2c2d"/>
<circle cx="1094.35" cy="846.13" r="11.3" fill="#2f2c2d"/>
<circle cx="1156.26" cy="846.13" r="11.3" fill="#2f2c2d"/>
<circle cx="1218.17" cy="846.13" r="11.3" fill="#2f2c2d"/>
<circle cx="1280.09" cy="846.13" r="11.3" fill="#2f2c2d"/>
<g transform="translate(1040.23,1346.5) scale(1,1.04)"><text x="0" y="0" font-size="38.5">V</text><text x="25.68" y="8.9" font-size="25.5">BG</text><text x="62.52" y="0" font-size="38.5"> (V)</text></g>
<g transform="translate(761.5,1130.92) rotate(-90) scale(1,1.04)"><text x="0" y="0" font-size="38">Mobility  (cm</text><text x="213.23" y="-12" font-size="25.5">2</text><text x="227.41" y="0" font-size="38"> / Vs)</text></g>
<g transform="translate(858.88,735.7) scale(1,1.04)"><text x="0" y="0" font-size="32.5">(d)</text></g>
</svg>
</body></html>
